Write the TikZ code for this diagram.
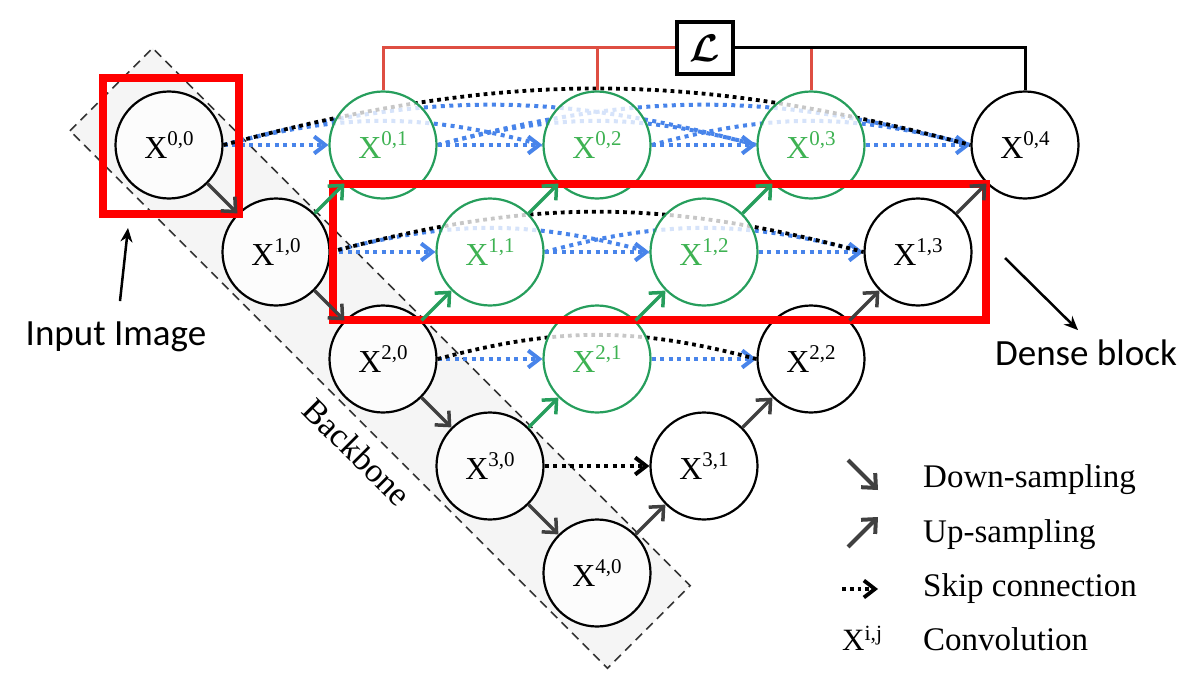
\documentclass[tikz,border=0pt]{standalone}
\usepackage{fontspec}
\usepackage{bm}
\usepackage{graphicx}
\setmainfont{Liberation Serif}
\newfontfamily\calibrifont{Carlito}
\usetikzlibrary{arrows.meta}

\definecolor{netgreen}{RGB}{38,158,92}
\definecolor{labelgreen}{RGB}{62,178,82}
\definecolor{skipblue}{RGB}{72,132,234}
\definecolor{lossred}{RGB}{222,78,66}
\colorlet{samplegray}{black!75}

\newcommand{\convlabel}[2]{X\raisebox{0.40em}{\fontsize{21}{21}\selectfont#1,#2}}

\pgfdeclarelayer{bandlayer}
\pgfdeclarelayer{skiplayer}
\pgfsetlayers{bandlayer,skiplayer,main}

\tikzset{
  conv/.style={circle, line width=2.2pt, minimum size=107pt, inner sep=0pt,
               fill=white, fill opacity=0.78, text opacity=1,
               font=\fontsize{32}{32}\selectfont},
  skipline/.style={line width=4pt, dash pattern=on 4pt off 4.5pt},
  longskip/.style={line width=3.8pt, dash pattern=on 3.8pt off 4pt},
  skiptip/.style={-{Straight Barb[length=11pt,width=17pt]}},
  samplearrow/.style={line width=3.5pt, -{Straight Barb[length=11pt,width=20pt]}},
  highlight/.style={draw=red, line width=8pt},
  pointer/.style={line width=2.5pt, -{Stealth[length=14pt,width=12pt]}},
  calloutlabel/.style={font=\calibrifont\fontsize{37}{37}\selectfont, inner sep=0pt, anchor=base},
  legendtext/.style={font=\fontsize{33}{33}\selectfont, inner sep=0pt, anchor=base west},
  lossbox/.style={draw, line width=4pt, minimum width=56pt, minimum height=52pt,
                  inner sep=0pt, font=\fontsize{24}{24}\selectfont},
}

\begin{document}
\begin{tikzpicture}[x=1pt, y=1pt]

\useasboundingbox (0,0) rectangle (1202,-677);

% ---- (1) nodes X^{i,j} ------------------------------------------
\foreach \i in {0,...,4}{%
  \pgfmathtruncatemacro{\lastj}{4-\i}
  \foreach \j in {0,...,\lastj}{%
    \pgfmathtruncatemacro{\isnew}{(\j>0)&&(\j<\lastj)}
    \ifnum\isnew=1 \def\ringclr{netgreen}\def\textclr{labelgreen}%
    \else \def\ringclr{black}\def\textclr{black}\fi
    \node[conv, draw=\ringclr, text=\textclr] (X-\i-\j)
          at ({169+107*\i+214*\j},{-145-107*\i}) {\convlabel{\i}{\j}};
  }
}

% ---- (2) backbone band ------------------------------------------
\begin{pgfonlayer}{bandlayer}
\begin{scope}[shift={(X-0-0.center)}, rotate=-45]
  \draw[fill=black!4, draw=black!80, line width=1.6pt,
        dash pattern=on 9pt off 6pt] (-80,-60) rectangle (680,57);
  \node[rotate=-45, font=\fontsize{34}{34}\selectfont] (bb)
        at (350,-84) {Backbone};
\end{scope}
\end{pgfonlayer}

% ---- (3) skip connections (behind the nodes) --------------------
\begin{pgfonlayer}{skiplayer}
\foreach \i in {0,1,2}{%
  \pgfmathtruncatemacro{\lastj}{3-\i}
  \foreach \j in {0,...,\lastj}{%
    \pgfmathtruncatemacro{\tgt}{\j+1}
    \draw[skipline, skipblue, skiptip] (X-\i-\j.east) -- (X-\i-\tgt.west);
  }
}
\draw[skipline, black, skiptip] (X-3-0.east) -- (X-3-1.west);

\foreach \i in {0,1,2}{%
  \pgfmathtruncatemacro{\lastj}{4-\i}
  \foreach \s in {2,...,\lastj}{%
    \pgfmathtruncatemacro{\firstmax}{\lastj-\s}
    \foreach \j in {0,...,\firstmax}{%
      \pgfmathtruncatemacro{\tgt}{\j+\s}
      \ifnum\s=\lastj\relax
        \draw[longskip, black] (X-\i-\j.east) to[bend left=15] (X-\i-\tgt.west);
      \else
        \draw[skipline, skipblue] (X-\i-\j.east) to[bend left=15] (X-\i-\tgt.west);
      \fi
    }
  }
}
\end{pgfonlayer}

% ---- (4) highlight boxes ----------------------------------------
\draw[highlight] (103,-78) rectangle (239,-214);
\draw[highlight] (333,-184) rectangle (986,-320);

% ---- (5) down- and up-sampling ----------------------------------
\foreach \i in {0,...,3}{%
  \pgfmathtruncatemacro{\tgt}{\i+1}
  \draw[samplearrow, samplegray] (X-\i-0.315) -- (X-\tgt-0.135);
}
\foreach \i in {0,...,3}{%
  \pgfmathtruncatemacro{\lastj}{4-\i}
  \pgfmathtruncatemacro{\ip}{\i+1}
  \foreach \j in {1,...,\lastj}{%
    \pgfmathtruncatemacro{\jm}{\j-1}
    \ifnum\j=\lastj\relax \def\arrclr{samplegray}\else \def\arrclr{netgreen}\fi
    \draw[samplearrow, draw=\arrclr] (X-\ip-\jm.45) -- (X-\i-\j.225);
  }
}

% ---- (6) loss -----------------------------------------------------
\node[lossbox] (loss) at (705,-48) {\scalebox{1.55}{$\bm{\mathcal{L}}$}};
\draw[lossred, line width=3pt] (loss.west) -| (X-0-1.north);
\draw[lossred, line width=3pt] (X-0-2.north) -- (X-0-2.north |- loss.west);
\draw[lossred, line width=3pt] (X-0-3.north) -- (X-0-3.north |- loss.east);
\draw[line width=3pt] (loss.east) -| (X-0-4.north);

% ---- (7) callouts -------------------------------------------------
\node[calloutlabel] (inp) at (116,-345) {Input Image};
\coordinate (inpTip) at (128,-228);
\draw[pointer] ([shift={(4,20)}]inp.north) -- (inpTip);

\node[calloutlabel] (db) at (1086,-365) {Dense block};
\coordinate (dbTail) at (1005,-258);
\draw[pointer] (dbTail) -- ([shift={(-8,9)}]db.north);

% ---- (8) legend ---------------------------------------------------
\coordinate (downA) at (848,-460);
\coordinate (downB) at (878,-490);
\coordinate (upA) at (848,-547);
\coordinate (upB) at (878,-517);
\coordinate (skipA) at (842,-589);
\coordinate (skipB) at (878,-589);
\draw[samplearrow, samplegray, line width=4pt] (downA) -- (downB);
\draw[samplearrow, samplegray, line width=4pt] (upA) -- (upB);
\draw[longskip, black, skiptip] (skipA) -- (skipB);
\node[legendtext, font=\fontsize{31}{31}\selectfont] (convsym) at (842,-650) {X\textsuperscript{i,j}};

\node[legendtext] (downtxt) at (923,-487) {Down-sampling};
\node[legendtext] (uptxt)   at (923,-542) {Up-sampling};
\node[legendtext] (skiptxt) at (923,-596) {Skip connection};
\node[legendtext] (convtxt) at (923,-650) {Convolution};

\end{tikzpicture}
\end{document}
